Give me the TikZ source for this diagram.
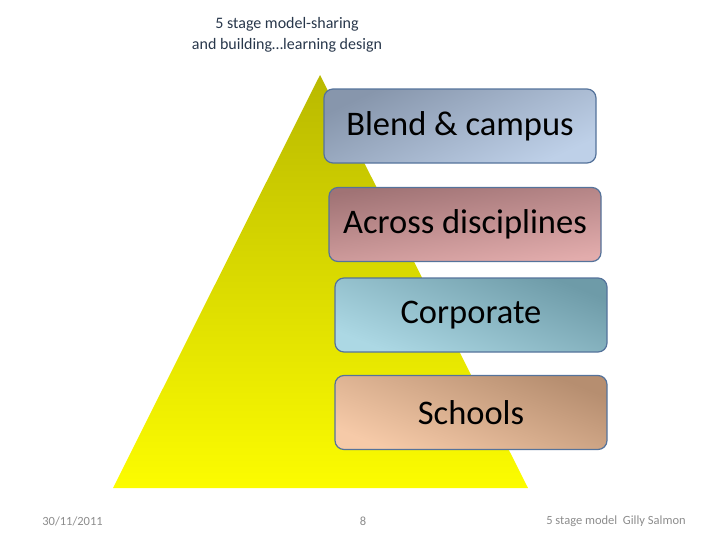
\documentclass[tikz,border=0pt]{standalone}
\usepackage{fontspec}
\setmainfont{Carlito}
\definecolor{titlecol}{RGB}{40,55,75}
\definecolor{footcol}{RGB}{140,140,140}
\definecolor{edgecol}{RGB}{85,115,155}
\definecolor{triTop}{RGB}{185,185,0}
\definecolor{triBot}{RGB}{252,252,0}
\definecolor{blendA}{RGB}{135,150,172}
\definecolor{blendB}{RGB}{190,208,232}
\definecolor{acrossA}{RGB}{160,115,117}
\definecolor{acrossB}{RGB}{226,172,172}
\definecolor{corpA}{RGB}{110,155,168}
\definecolor{corpB}{RGB}{172,216,228}
\definecolor{schA}{RGB}{182,142,112}
\definecolor{schB}{RGB}{246,202,168}
\tikzset{
  stagebox/.style={draw=edgecol, line width=1.2pt, rounded corners=9pt,
    minimum width=272pt, minimum height=74pt, inner sep=0pt,
    font=\fontsize{34.5}{38}\selectfont, text=black},
  titletext/.style={font=\fontsize{16}{21}\selectfont, text=titlecol, align=center},
  foottext/.style={font=\fontsize{12.5}{15}\selectfont, text=footcol}
}
\begin{document}
\begin{tikzpicture}[x=1pt,y=-1pt]
\useasboundingbox (0,0) rectangle (728,546);
\shade[top color=triTop, bottom color=triBot] (320,75) -- (528,488) -- (113,488) -- cycle;
\node[titletext] (title) at (287,35) {5 stage model-sharing\\and building\ldots learning design};
\node[stagebox, top color=blendA, bottom color=blendB, shading angle=25] (blend) at (460,126) {\raisebox{-2pt}{Blend \& campus}};
\node[stagebox, top color=acrossA, bottom color=acrossB, shading angle=8] (across) at (465,224.5) {\raisebox{-2pt}{Across disciplines}};
\node[stagebox, top color=corpA, bottom color=corpB, shading angle=-22] (corp) at (471,315) {\raisebox{-2pt}{Corporate}};
\node[stagebox, top color=schA, bottom color=schB, shading angle=-22] (schools) at (471,412.5) {Schools};
\node[foottext] (date) at (72.5,521) {30/11/2011};
\node[foottext] (page) at (363,521) {8};
\node[foottext] (author) at (616,521) {5 stage model\ \ Gilly Salmon};
\end{tikzpicture}
\end{document}
